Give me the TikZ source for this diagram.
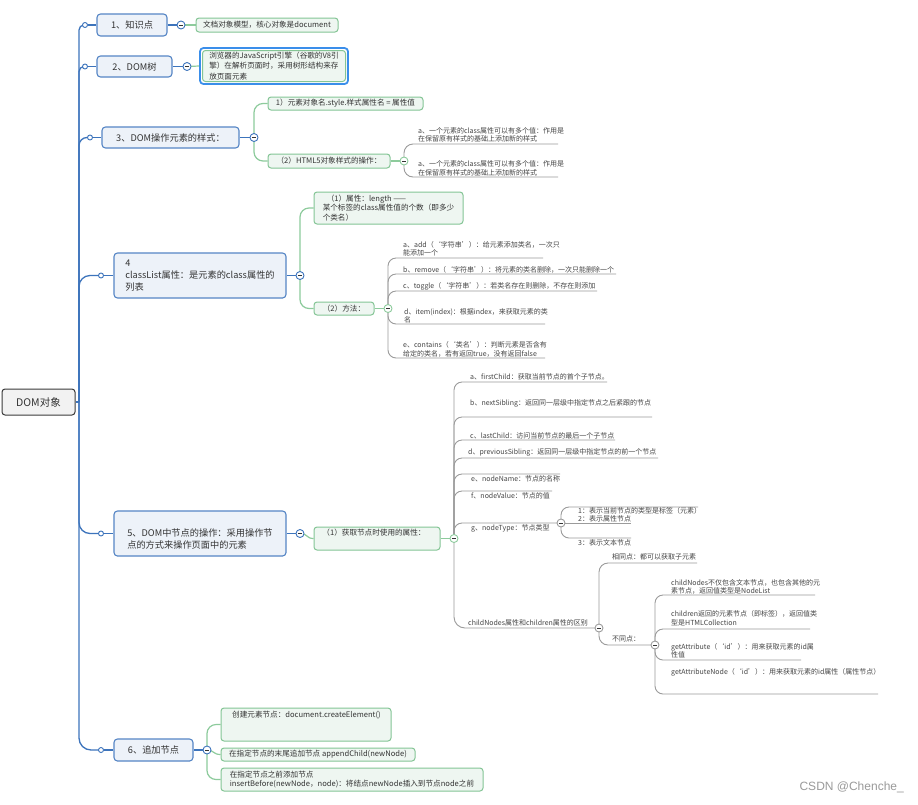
\documentclass[tikz,border=0pt]{standalone}
\usepackage{fontspec}
\setmainfont{Noto Sans CJK SC}
\newfontfamily\wmfont{Liberation Sans}
\usetikzlibrary{backgrounds}
\definecolor{blueline}{HTML}{3D74BC}
\definecolor{lonedraw}{HTML}{5585C5}
\definecolor{lonefill}{HTML}{EDF2F9}
\definecolor{greenline}{HTML}{8DCB9C}
\definecolor{ltwodraw}{HTML}{84C595}
\definecolor{ltwofill}{HTML}{EEF6F1}
\definecolor{grayline}{HTML}{9B9B9B}
\definecolor{selblue}{HTML}{3A8EEA}
\definecolor{rootfill}{HTML}{F2F2F2}
\definecolor{rootdraw}{HTML}{3A3A3A}
\definecolor{txt}{HTML}{333333}
\definecolor{gtxt}{HTML}{454545}
\definecolor{wmgray}{HTML}{9A9A9A}
\tikzset{
  rootbox/.style={draw=rootdraw, fill=rootfill, rounded corners=3, line width=1, inner sep=0,
    font=\fontsize{10.5}{12}\selectfont, text=txt},
  lonebox/.style={draw=lonedraw, fill=lonefill, rounded corners=3.5, line width=1.1, inner sep=0,
    font=\fontsize{9.2}{12}\selectfont, text=txt, align=left},
  ltwobox/.style={draw=ltwodraw, fill=ltwofill, rounded corners=3, line width=1, inner sep=0,
    font=\fontsize{7.6}{9.5}\selectfont, text=txt, align=left},
  ltwotext/.style={inner sep=0, font=\fontsize{7.6}{9.5}\selectfont, text=txt, align=left},
  lonetext/.style={inner sep=0, font=\fontsize{9.2}{12}\selectfont, text=txt, align=left},
  gtext/.style={inner sep=0, anchor=west, font=\fontsize{7}{8.5}\selectfont, text=gtxt, align=left},
  trunkdot/.style={circle, draw=blueline, fill=white, inner sep=0, minimum size=5, line width=0.9},
  foldc/.style={circle, draw=#1, fill=white, inner sep=0, minimum size=8, line width=0.9,
    path picture={\draw[line width=0.8, draw=txt]
      ([xshift=-2.2pt]path picture bounding box.center) -- ([xshift=2.2pt]path picture bounding box.center);}},
  blueln/.style={draw=blueline, line width=1.3},
  greenln/.style={draw=greenline, line width=1.2},
  grayln/.style={draw=grayline, line width=0.9},
}
\begin{document}
\begin{tikzpicture}[x=1pt,y=-1pt]
\useasboundingbox (0,0) rectangle (918,804);

% root
\node[rootbox, minimum width=73, minimum height=26] (root) at (38.5,402) {DOM对象};
\coordinate (tj) at (79,402);

% level 1
\node[lonebox, minimum width=70, minimum height=22] (k1) at (132,25) {1、知识点};
\node[lonebox, minimum width=75, minimum height=21] (k2) at (134.5,66.5) {2、DOM树};
\node[lonebox, minimum width=137, minimum height=21] (k3) at (170.5,137.5) {3、DOM操作元素的样式：};
\node[lonebox, minimum width=172, minimum height=45] (k4) at (200,275.5) {4\\classList属性：是元素的class属性的\\列表};
\node[lonebox, minimum width=172, minimum height=45] (k5) at (200,533.5) {};
\node[lonetext] (k5t) at (200,539) {5、DOM中节点的操作：采用操作节\\点的方式来操作页面中的元素};
\node[lonebox, minimum width=79, minimum height=22] (k6) at (153.5,750) {6、追加节点};

% trunk dots
\node[trunkdot] (s1) at (85,25) {};
\node[trunkdot] (s2) at (85,66.5) {};
\node[trunkdot] (s3) at (90,137.5) {};
\node[trunkdot] (s4) at (101,275.5) {};
\node[trunkdot] (s5) at (101,533.5) {};
\node[trunkdot] (s6) at (101,750) {};

% fold circles level 1
\node[foldc=blueline] (m1) at (181,25) {};
\node[foldc=blueline] (m2) at (187,66.5) {};
\node[foldc=blueline] (m3) at (254,137.5) {};
\node[foldc=blueline] (m4) at (300,275.5) {};
\node[foldc=blueline] (m5) at (300,533.5) {};
\node[foldc=blueline] (m6) at (207,750) {};

% level 2
\node[ltwobox, minimum width=142, minimum height=14] (L1) at (267,25) {文档对象模型，核心对象是document};
\node[draw=selblue, line width=1.8, rounded corners=3.5, minimum width=148, minimum height=36, inner sep=0] (L2sel) at (274,66) {};
\node[ltwobox, minimum width=143, minimum height=31, font=\fontsize{7.6}{10.5}\selectfont] (L2) at (274,66) {浏览器的JavaScript引擎（谷歌的V8引\\擎）在解析页面时，采用树形结构来存\\放页面元素};
\node[ltwobox, minimum width=155, minimum height=13] (L3a) at (345.5,103.5) {1）元素对象名.style.样式属性名 = 属性值};
\node[ltwobox, minimum width=122, minimum height=14] (L3b) at (329,161) {（2）HTML5对象样式的操作：};
\node[ltwobox, minimum width=149, minimum height=32] (L4a) at (388.5,208) {\hspace*{4pt}（1）属性：length ——\\某个标签的class属性值的个数（即多少\\个类名）};
\node[ltwobox, minimum width=60, minimum height=13] (L4b) at (344,308.5) {（2）方法：};
\node[ltwobox, minimum width=126, minimum height=23] (L5) at (377,538.5) {};
\node[ltwotext] (L5t) at (374,533) {（1）获取节点时使用的属性：};
\node[ltwobox, minimum width=170, minimum height=33] (L6a) at (306,724.5) {};
\node[ltwotext, anchor=west] (L6at) at (232,715) {创建元素节点：document.createElement()};
\node[ltwobox, minimum width=194, minimum height=13] (L6b) at (318,754.5) {在指定节点的末尾追加节点 appendChild(newNode)};
\node[ltwobox, minimum width=262, minimum height=23] (L6c) at (352,779.5) {在指定节点之前添加节点\\insertBefore(newNode，node)：将结点newNode插入到节点node之前};

% fold circles level 2+
\node[foldc=greenline] (m3b) at (404,161) {};
\node[foldc=greenline] (m4b) at (388,308.5) {};
\node[foldc=greenline] (m5b) at (454,538.5) {};
\node[foldc=grayline] (mg) at (561,523) {};
\node[foldc=grayline] (mh) at (599,628) {};
\node[foldc=grayline] (mi) at (655,645) {};

% gray texts
\node[gtext] (ta1) at (418,135) {a、一个元素的class属性可以有多个值：作用是\\在保留原有样式的基础上添加新的样式};
\node[gtext] (ta2) at (418,168.5) {a、一个元素的class属性可以有多个值：作用是\\在保留原有样式的基础上添加新的样式};
\node[gtext] (tma) at (403,249) {a、add（‘字符串’）：给元素添加类名，一次只\\能添加一个};
\node[gtext] (tmb) at (403,270) {b、remove（‘字符串’）：将元素的类名删除，一次只能删除一个};
\node[gtext] (tmc) at (403,286) {c、toggle（‘字符串’）：若类名存在则删除，不存在则添加};
\node[gtext] (tmd) at (404,316) {d、item(index)：根据index，来获取元素的类\\名};
\node[gtext] (tme) at (403,349.5) {e、contains（‘类名’）：判断元素是否含有\\给定的类名，若有返回true，没有返回false};
\node[gtext] (tpa) at (470,377) {a、firstChild：获取当前节点的首个子节点。};
\node[gtext] (tpb) at (470,403) {b、nextSibling：返回同一层级中指定节点之后紧跟的节点};
\node[gtext] (tpc) at (470,436) {c、lastChild：访问当前节点的最后一个子节点};
\node[gtext] (tpd) at (468,452) {d、previousSibling：返回同一层级中指定节点的前一个节点};
\node[gtext] (tpe) at (471,479) {e、nodeName：节点的名称};
\node[gtext] (tpf) at (471,496) {f、nodeValue：节点的值};
\node[gtext] (tpg) at (471,528) {g、nodeType：节点类型};
\node[gtext] (tph) at (468,623) {childNodes属性和children属性的区别};
\node[gtext] (tg1) at (578,511) {1：表示当前节点的类型是标签（元素）};
\node[gtext] (tg2) at (578,519) {2：表示属性节点};
\node[gtext] (tg3) at (578,543) {3：表示文本节点};
\node[gtext] (th1) at (612,557) {相同点：都可以获取子元素};
\node[gtext] (th2) at (612,639) {不同点：};
\node[gtext] (ti1) at (671,587) {childNodes不仅包含文本节点，也包含其他的元\\素节点，返回值类型是NodeList};
\node[gtext] (ti2) at (671,618.5) {children返回的元素节点（即标签），返回值类\\型是HTMLCollection};
\node[gtext] (ti3) at (671,651) {getAttribute（‘id’）：用来获取元素的id属\\性值};
\node[gtext] (ti4) at (671,672) {getAttributeNode（‘id’）：用来获取元素的id属性（属性节点）};

% underline ends
\coordinate (ua1) at (558,144);
\coordinate (ua2) at (558,177);
\coordinate (uma) at (543,258);
\coordinate (umb) at (616,274);
\coordinate (umc) at (597,291);
\coordinate (umd) at (545,324);
\coordinate (ume) at (545,358);
\coordinate (upa) at (607,382);
\coordinate (upb) at (652,417);
\coordinate (upc) at (615,440);
\coordinate (upd) at (658,458);
\coordinate (upe) at (560,474);
\coordinate (upf) at (552,491);
\coordinate (ug1) at (698,507);
\coordinate (ug2) at (631,523);
\coordinate (ug3) at (631,538);
\coordinate (uh1) at (697,563);
\coordinate (ui1) at (815,595);
\coordinate (ui2) at (810,629);
\coordinate (ui3) at (801,660);
\coordinate (ui4) at (878,694);

% watermark
\node[anchor=east, inner sep=0, font=\wmfont\fontsize{12}{14}\selectfont, text=wmgray] (wm) at (904,787) {CSDN @Chenche\_};

\begin{scope}[on background layer]
  \fill[white] (0,0) rectangle (918,804);
  % main trunk
  \draw[blueln] (root.east) -- (tj);
  \draw[blueln, rounded corners=5] (tj) |- (s1.center);
  \draw[blueln, rounded corners=5] (tj) |- (s2.center);
  \draw[blueln, rounded corners=8] (tj) |- (s3.center);
  \draw[blueln, rounded corners=11] (tj) |- (s4.center);
  \draw[blueln, rounded corners=11] (tj) |- (s5.center);
  \draw[blueln, rounded corners=12] (tj) |- (s6.center);
  \foreach \a/\b in {s1/k1, s2/k2, s3/k3, s4/k4, s5/k5, s6/k6} \draw[blueln] (\a.east) -- (\b.west);
  \foreach \a/\b in {k1/m1, k2/m2, k3/m3, k4/m4, k5/m5, k6/m6} \draw[blueln] (\a.east) -- (\b.center);
  % green level 2 connectors
  \draw[greenln] (m1.center) -- (L1.west);
  \draw[greenln] (m2.center) -- (L2sel.west);
  \draw[greenln, rounded corners=9] (m3.center) |- (L3a.west);
  \draw[greenln, rounded corners=9] (m3.center) |- (L3b.west);
  \draw[greenln, rounded corners=9] (m4.center) |- (L4a.west);
  \draw[greenln, rounded corners=9] (m4.center) |- (L4b.west);
  \draw[greenln] (m5.center) .. controls (308,533.5) and (306,538.5) .. (L5.west);
  \draw[greenln, rounded corners=9] (m6.center) |- (L6a.west);
  \draw[greenln] (m6.center) .. controls (214,750) and (213,754.5) .. (L6b.west);
  \draw[greenln, rounded corners=9] (m6.center) |- (L6c.west);
  \draw[greenln] (L3b.east) -- (m3b.center);
  \draw[greenln] (L4b.east) -- (m4b.center);
  \draw[greenln] (L5.east) -- (m5b.center);
  % gray level 3
  \foreach \u in {ua1, ua2} \draw[grayln, rounded corners=9] (m3b.center) |- (\u);
  \foreach \u in {uma, umb, umc, umd, ume} \draw[grayln, rounded corners=8] (m4b.center) |- (\u);
  \foreach \u in {upa, upb, upc, upd, upe, upf} \draw[grayln, rounded corners=8] (m5b.center) |- (\u);
  \draw[grayln, rounded corners=8] (m5b.center) |- (mg.center);
  \draw[grayln, rounded corners=11] (m5b.center) |- (mh.center);
  \draw[grayln, rounded corners=8] (mg.center) |- (ug1);
  \draw[grayln] (mg.center) -- (ug2);
  \draw[grayln, rounded corners=8] (mg.center) |- (ug3);
  \draw[grayln, rounded corners=9] (mh.center) |- (uh1);
  \draw[grayln, rounded corners=9] (mh.center) |- (mi.center);
  \foreach \u in {ui1, ui2, ui3, ui4} \draw[grayln, rounded corners=8] (mi.center) |- (\u);
\end{scope}
\end{tikzpicture}
\end{document}
